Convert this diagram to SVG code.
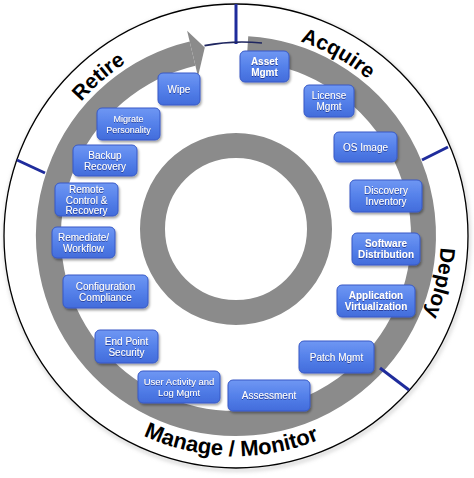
<svg xmlns="http://www.w3.org/2000/svg" width="474" height="478" viewBox="0 0 474 478">
<defs>
<linearGradient id="bg" x1="0" y1="0" x2="0" y2="1">
<stop offset="0" stop-color="#6f97f3"/>
<stop offset="0.5" stop-color="#5581ea"/>
<stop offset="1" stop-color="#426cdb"/>
</linearGradient>
<filter id="bsh" x="-20%" y="-20%" width="150%" height="160%">
<feDropShadow dx="1.2" dy="2" stdDeviation="1.3" flood-color="#000" flood-opacity="0.35"/>
</filter>
<filter id="tsh" x="-10%" y="-30%" width="120%" height="160%">
<feDropShadow dx="0" dy="0.8" stdDeviation="0.6" flood-color="#14287a" flood-opacity="0.85"/>
</filter>
<filter id="osh" x="-5%" y="-5%" width="110%" height="110%">
<feGaussianBlur stdDeviation="2"/>
</filter>
<path id="cw" d="M 236 31 A 205 205 0 1 1 236 441 A 205 205 0 1 1 236 31"/>
<path id="ccw" d="M 236 16 A 220 220 0 1 0 236 456 A 220 220 0 1 0 236 16"/>
</defs>
<style>
.box{fill:url(#bg);stroke:#3659c6;stroke-width:1;filter:url(#bsh)}
.t{font-family:"Liberation Sans",Arial,sans-serif;font-size:10px;fill:#fff;text-anchor:middle;filter:url(#tsh)}
.b{font-weight:bold}
.lab{font-family:"Liberation Sans",Arial,sans-serif;font-size:21px;font-weight:bold;fill:#000}
.div{stroke:#1f2c9c;stroke-width:3;fill:none}
</style>
<rect width="474" height="478" fill="#fff"/>
<g id="frame">
<circle cx="237" cy="238" r="232" fill="none" stroke="#bbb" stroke-width="2" filter="url(#osh)"/>
<circle cx="236" cy="236" r="232" fill="#fff" stroke="#000" stroke-width="1.3"/>
</g>
<g id="cycle-arrow" fill="#8b8b8b">
<path d="M 247.45 48.85 A 187.5 187.5 0 1 1 192.55 53.60" fill="none" stroke="#8b8b8b" stroke-width="25"/>
<polygon points="187.1,30.7 204.8,47.6 198,76.5"/>
</g>
<g id="inner-ring">
<circle cx="236" cy="229" r="83.5" fill="none" stroke="#8b8b8b" stroke-width="25"/>
</g>
<g id="dividers">
<line class="div" x1="236" y1="4" x2="236" y2="44"/>
<path d="M 204.5 45.6 A 194 194 0 0 1 262 43" fill="none" stroke="#1f2660" stroke-width="1.6"/>
<line class="div" x1="17" y1="160" x2="45" y2="173"/>
<line class="div" x1="422" y1="160" x2="448" y2="147"/>
<line class="div" x1="380" y1="368" x2="409" y2="390"/>
</g>
<g id="phase-labels">
<text class="lab" text-anchor="middle"><textPath href="#cw" startOffset="1141.7">Retire</textPath></text>
<text class="lab" text-anchor="middle"><textPath href="#cw" startOffset="104.5">Acquire</textPath></text>
<text class="lab" text-anchor="middle"><textPath href="#cw" startOffset="368.2">Deploy</textPath></text>
<text class="lab" text-anchor="middle" style="font-size:22px"><textPath href="#ccw" startOffset="686">Manage / Monitor</textPath></text>
</g>
<g id="asset-mgmt"><rect class="box" x="240" y="51" width="49" height="31" rx="5"/><text class="t b" x="264.5" y="64.5">Asset</text><text class="t b" x="264.5" y="75.5">Mgmt</text></g>
<g id="license-mgmt"><rect class="box" x="304" y="85" width="50" height="32" rx="5"/><text class="t" x="329" y="99">License</text><text class="t" x="329" y="110">Mgmt</text></g>
<g id="os-image"><rect class="box" x="334" y="132" width="63" height="30" rx="5"/><text class="t" x="365.5" y="150.6">OS Image</text></g>
<g id="discovery-inventory"><rect class="box" x="350" y="180" width="72" height="32" rx="5"/><text class="t" x="386" y="194">Discovery</text><text class="t" x="386" y="205">Inventory</text></g>
<g id="software-distribution"><rect class="box" x="352" y="233" width="68" height="32" rx="5"/><text class="t b" x="386" y="247">Software</text><text class="t b" x="386" y="258">Distribution</text></g>
<g id="application-virtualization"><rect class="box" x="337" y="285" width="78" height="32" rx="5"/><text class="t b" x="376" y="299">Application</text><text class="t b" x="376" y="310">Virtualization</text></g>
<g id="patch-mgmt"><rect class="box" x="299" y="341" width="75" height="32" rx="5"/><text class="t" x="336.5" y="360.6">Patch Mgmt</text></g>
<g id="assessment"><rect class="box" x="228" y="380" width="82" height="31" rx="5"/><text class="t" x="269" y="399.1">Assessment</text></g>
<g id="user-activity"><rect class="box" x="138" y="371" width="82" height="32" rx="5"/><text class="t" x="179" y="385" style="font-size:9.5px">User Activity and</text><text class="t" x="179" y="396" style="font-size:9.5px">Log Mgmt</text></g>
<g id="end-point-security"><rect class="box" x="95" y="330" width="63" height="33" rx="5"/><text class="t" x="126.5" y="344.5">End Point</text><text class="t" x="126.5" y="355.5">Security</text></g>
<g id="configuration-compliance"><rect class="box" x="63" y="275" width="85" height="33" rx="5"/><text class="t" x="105.5" y="289.5">Configuration</text><text class="t" x="105.5" y="300.5">Compliance</text></g>
<g id="remediate-workflow"><rect class="box" x="52" y="227" width="63" height="31" rx="5"/><text class="t" x="83.5" y="240.5">Remediate/</text><text class="t" x="83.5" y="251.5">Workflow</text></g>
<g id="remote-control"><rect class="box" x="55" y="183" width="63" height="33" rx="5"/><text class="t" x="86.5" y="193">Remote</text><text class="t" x="86.5" y="203.5">Control &amp;</text><text class="t" x="86.5" y="214">Recovery</text></g>
<g id="backup-recovery"><rect class="box" x="73" y="145" width="64" height="31" rx="5"/><text class="t" x="105" y="158.5">Backup</text><text class="t" x="105" y="169.5">Recovery</text></g>
<g id="migrate-personality"><rect class="box" x="97" y="108" width="63" height="32" rx="5"/><text class="t" x="128.5" y="122" style="font-size:9px">Migrate</text><text class="t" x="128.5" y="133" style="font-size:9px">Personality</text></g>
<g id="wipe"><rect class="box" x="158" y="73" width="42" height="32" rx="5"/><text class="t" x="179" y="92.6">Wipe</text></g>
</svg>
